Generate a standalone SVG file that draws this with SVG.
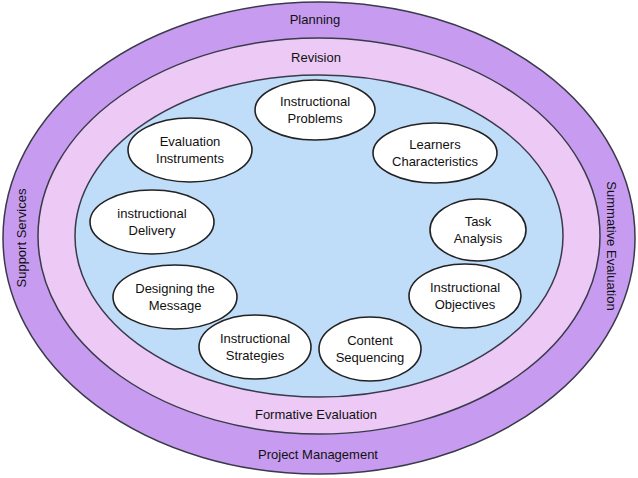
<svg xmlns="http://www.w3.org/2000/svg" width="638" height="478" viewBox="0 0 638 478">
<style>
.ring{stroke:#3a3a4a;stroke-width:1.5}
.n ellipse{fill:#fff;stroke:#222;stroke-width:1.6}
text{font-family:"Liberation Sans",Arial,sans-serif;font-size:13px;fill:#111;text-anchor:middle}
</style>
<rect width="638" height="478" fill="#fff"/>
<g id="rings">
<ellipse class="ring" cx="319" cy="238" rx="316" ry="236" fill="#c79cf0"/>
<ellipse class="ring" cx="319" cy="236" rx="281" ry="198" fill="#eccaf5"/>
<ellipse class="ring" cx="319" cy="236" rx="244" ry="161" fill="#bfdcf8"/>
<text x="315" y="24">Planning</text>
<text x="316" y="62">Revision</text>
<text x="316" y="419">Formative Evaluation</text>
<text x="318" y="459">Project Management</text>
<text transform="translate(26,238) rotate(-90)">Support Services</text>
<text transform="translate(607,246) rotate(90)">Summative Evaluation</text>
</g>
<g id="connectors"></g>
<g id="n1" class="n"><ellipse cx="315" cy="110" rx="60" ry="30"/><text x="315" y="106">Instructional</text><text x="315" y="123">Problems</text></g>
<g id="n2" class="n"><ellipse cx="435" cy="153" rx="62" ry="30"/><text x="435" y="149">Learners</text><text x="435" y="166">Characteristics</text></g>
<g id="n3" class="n"><ellipse cx="478" cy="230" rx="48" ry="31"/><text x="478" y="226">Task</text><text x="478" y="243">Analysis</text></g>
<g id="n4" class="n"><ellipse cx="465" cy="296" rx="56" ry="32"/><text x="465" y="292">Instructional</text><text x="465" y="309">Objectives</text></g>
<g id="n5" class="n"><ellipse cx="370" cy="349" rx="51" ry="32"/><text x="370" y="345">Content</text><text x="370" y="362">Sequencing</text></g>
<g id="n6" class="n"><ellipse cx="255" cy="347" rx="56" ry="32"/><text x="255" y="343">Instructional</text><text x="255" y="360">Strategies</text></g>
<g id="n7" class="n"><ellipse cx="175" cy="297" rx="62" ry="32"/><text x="175" y="293">Designing the</text><text x="175" y="310">Message</text></g>
<g id="n8" class="n"><ellipse cx="152" cy="222" rx="62" ry="32"/><text x="152" y="218">instructional</text><text x="152" y="235">Delivery</text></g>
<g id="n9" class="n"><ellipse cx="190" cy="150" rx="62" ry="32"/><text x="190" y="146">Evaluation</text><text x="190" y="163">Instruments</text></g>
</svg>
